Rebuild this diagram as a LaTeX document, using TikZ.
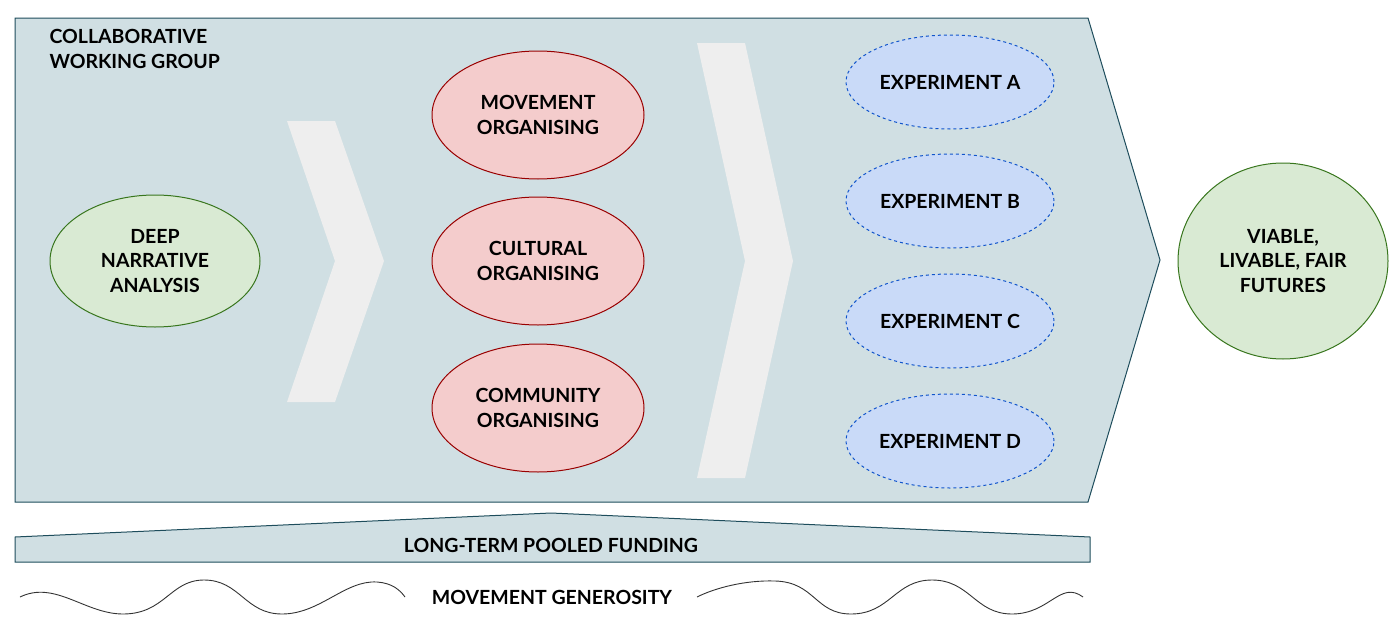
\documentclass[tikz,border=0pt]{standalone}
\usepackage{fontspec}
\setmainfont{Lato}
\usetikzlibrary{shapes.geometric}
\definecolor{bgc}{HTML}{D0DFE3}
\definecolor{bdc}{HTML}{1E4D5C}
\definecolor{gf}{HTML}{D9EAD3}\definecolor{gb}{HTML}{38761D}
\definecolor{rf}{HTML}{F4CCCC}\definecolor{rb}{HTML}{990000}
\definecolor{bf}{HTML}{C9DAF8}\definecolor{bb}{HTML}{1155CC}
\definecolor{chev}{HTML}{EEEEEE}
\begin{document}
\begin{tikzpicture}[x=1pt,y=-1pt,
 lab/.style={font=\bfseries\fontsize{19.5}{24.5}\selectfont,align=center,text=black},
 ell/.style={ellipse,inner sep=0pt,lab,line width=1pt},
 green/.style={ell,fill=gf,draw=gb},
 red/.style={ell,fill=rf,draw=rb},
 blue/.style={ell,fill=bf,draw=bb,dashed},
 panel/.style={fill=bgc,draw=bdc,line width=1pt}]
\useasboundingbox (0,0) rectangle (1400,637);
\draw[panel] (15,18) -- (1088,18) -- (1160,260) -- (1088,502) -- (15,502) -- cycle;
\fill[chev] (287,121) -- (335,121) -- (384,261) -- (335,402) -- (287,402) -- (335,261) -- cycle;
\fill[chev] (697,43) -- (745,43) -- (793,261) -- (745,478) -- (697,478) -- (745,261) -- cycle;
\node[lab,align=left,anchor=north west] (cwg) at (46,26) {COLLABORATIVE\\WORKING GROUP};
\node[green,minimum width=210pt,minimum height=132pt] (dna) at (155,261) {DEEP\\NARRATIVE\\ANALYSIS};
\node[red,minimum width=212pt,minimum height=128pt] (mo) at (538,115) {MOVEMENT\\ORGANISING};
\node[red,minimum width=212pt,minimum height=128pt] (co) at (538,261) {CULTURAL\\ORGANISING};
\node[red,minimum width=212pt,minimum height=128pt] (cmo) at (538,408) {COMMUNITY\\ORGANISING};
\node[blue,minimum width=208pt,minimum height=94pt] (ea) at (950,82) {EXPERIMENT A};
\node[blue,minimum width=208pt,minimum height=94pt] (eb) at (950,201) {EXPERIMENT B};
\node[blue,minimum width=208pt,minimum height=94pt] (ec) at (950,321) {EXPERIMENT C};
\node[blue,minimum width=208pt,minimum height=94pt] (ed) at (950,441) {EXPERIMENT D};
\node[green,minimum width=210pt,minimum height=196pt] (vf) at (1283,261) {VIABLE,\\LIVABLE, FAIR\\FUTURES};
\draw[panel] (15,537) -- (551,513) -- (1090,537) -- (1090,562) -- (15,562) -- cycle;
\node[lab] (ltf) at (551,545) {LONG-TERM POOLED FUNDING};
\node[lab] (mg) at (552,597) {MOVEMENT GENEROSITY};
\draw[line width=0.9pt,black!80] (20,597) .. controls (55,580) and (85,614) .. (123,614)
 .. controls (165,614) and (170,580) .. (204,580)
 .. controls (240,580) and (245,614) .. (282,614)
 .. controls (320,614) and (345,580) .. (377,582)
 .. controls (392,583) and (400,590) .. (405,597);
\draw[line width=0.9pt,black!80] (697,597) .. controls (715,588) and (745,580) .. (775,581)
 .. controls (815,582) and (815,614) .. (851,614)
 .. controls (890,614) and (895,580) .. (932,580)
 .. controls (970,580) and (975,614) .. (1012,614)
 .. controls (1050,614) and (1060,580) .. (1083,597);
\end{tikzpicture}
\end{document}
